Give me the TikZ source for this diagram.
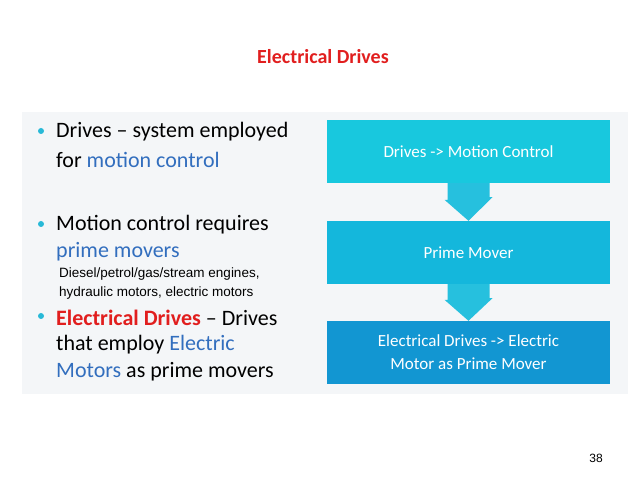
\documentclass[tikz,border=0pt]{standalone}
\usepackage{fontspec}
\setmainfont{Carlito}
\newfontfamily\arialf{Liberation Sans}
\begin{document}
\begin{tikzpicture}[x=1pt,y=-1pt,
  box/.style={draw=none,minimum width=283pt,minimum height=63pt,text=white,font=\fontsize{17}{20}\selectfont,align=center},
  lt/.style={anchor=west,inner sep=0pt,font=\fontsize{22}{26}\selectfont},
  st/.style={anchor=west,inner sep=0pt,font=\arialf\fontsize{13.5}{16}\selectfont},
  dot/.style={circle,fill=bcy,inner sep=0pt,minimum size=6pt}]
\definecolor{bcy}{RGB}{40,185,215}
\definecolor{b1}{RGB}{24,200,222}
\definecolor{b2}{RGB}{20,183,220}
\definecolor{b3}{RGB}{18,150,210}
\definecolor{ar}{RGB}{38,192,222}
\definecolor{bl}{RGB}{50,110,190}
\definecolor{rd}{RGB}{225,30,30}
\definecolor{pn}{RGB}{244,246,248}
\useasboundingbox (0,0) rectangle (638,478);
\fill[white] (0,0) rectangle (638,478);
\fill[pn] (22,112) rectangle (628,394);
\node[font=\bfseries\fontsize{20}{24}\selectfont,text=rd] (title) at (323,57) {Electrical Drives};
\node[box,fill=b1] (a) at (468.5,151.5) {Drives -> Motion Control};
\node[box,fill=b2] (b) at (468.5,252.5) {Prime Mover};
\node[box,fill=b3,font=\fontsize{17}{23}\selectfont] (c) at (468.5,352.5) {Electrical Drives -> Electric\\Motor as Prime Mover};
\fill[ar] (a.south) ++(-21,0) -- ++(42,0) -- ++(0,14) -- ++(3,0) -- (b.north) -- ++(-24,-21) -- ++(3,0) -- cycle;
\fill[ar] (b.south) ++(-21,0) -- ++(42,0) -- ++(0,14) -- ++(3,0) -- (c.north) -- ++(-24,-21) -- ++(3,0) -- cycle;
\node[dot] (d1) at (41,131) {};
\node[dot] (d2) at (41,224) {};
\node[dot] (d3) at (41,316) {};
\node[lt] (t1) at (56,132) {Drives -- system employed};
\node[lt] (t2) at (56,160) {for \textcolor{bl}{motion control}};
\node[lt] (t3) at (56,225) {Motion control requires};
\node[lt] (t4) at (56,252) {\textcolor{bl}{prime movers}};
\node[st] (s1) at (59,274) {Diesel/petrol/gas/stream engines,};
\node[st] (s2) at (59,293) {hydraulic motors, electric motors};
\node[lt] (t5) at (56,318) {\textcolor{rd}{\bfseries Electrical Drives} -- Drives};
\node[lt] (t6) at (56,345) {that employ \textcolor{bl}{Electric}};
\node[lt] (t7) at (56,372) {\textcolor{bl}{Motors} as prime movers};
\node[font=\arialf\fontsize{12}{14}\selectfont] (pg) at (596,458) {38};
\end{tikzpicture}
\end{document}
